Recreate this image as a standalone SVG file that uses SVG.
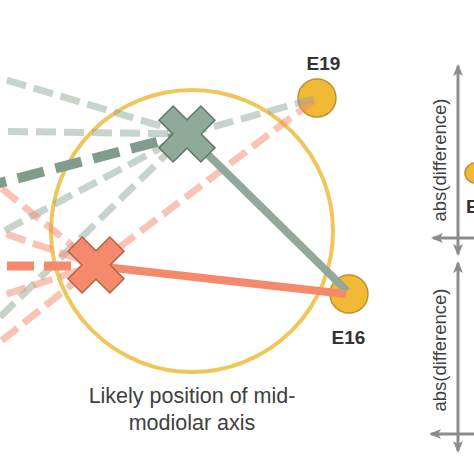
<svg xmlns="http://www.w3.org/2000/svg" width="474" height="474" viewBox="0 0 474 474">
<defs>
<style>
.lg{stroke:#8FAA9A;stroke-opacity:0.5;stroke-width:7;stroke-dasharray:20 8;fill:none}
.lo{stroke:#F4896B;stroke-opacity:0.5;stroke-width:7;stroke-dasharray:20 8;fill:none}
.dg{stroke:#7F9C8C;stroke-width:10;stroke-dasharray:27 12;fill:none}
.do{stroke:#F4896B;stroke-width:9;stroke-dasharray:27 10;fill:none}
.sg{stroke:#8FAA9A;stroke-width:8;fill:none}
.so{stroke:#F4896B;stroke-width:8;fill:none}
.elec{fill:#F2B937;stroke:#B8922F;stroke-width:1.5}
.lab{font-family:'Liberation Sans',Arial,sans-serif;font-weight:bold;font-size:19px;fill:#333333}
.ax{stroke:#8C8C8C;stroke-width:3;fill:none}
.axt{font-family:'Liberation Sans',Arial,sans-serif;font-size:18.5px;fill:#404040}
.cap{font-family:'Liberation Sans',Arial,sans-serif;font-size:21.5px;fill:#404040}
</style>
<marker id="arr" viewBox="0 0 12 10" refX="10" refY="5" markerWidth="4" markerHeight="3.4" orient="auto-start-reverse" markerUnits="strokeWidth">
<path d="M0,0 L12,5 L0,10 L3,5 z" fill="#8C8C8C"/>
</marker>
<polygon id="xshape" points="10,-29.6 10,-10 29.6,-10 29.6,10 10,10 10,29.6 -10,29.6 -10,10 -29.6,10 -29.6,-10 -10,-10 -10,-29.6"/>
</defs>

<g id="axis-circle">
<circle cx="192" cy="231" r="141" fill="none" stroke="#F0C55A" stroke-width="4"/>
</g>

<g id="E19">
<circle class="elec" cx="317" cy="98" r="19"/>
<text class="lab" x="323.5" y="70" text-anchor="middle">E19</text>
</g>
<g id="E16">
<circle class="elec" cx="349" cy="294" r="19"/>
<text class="lab" x="348.5" y="344" text-anchor="middle">E16</text>
</g>
<g id="E-partial">
<circle class="elec" cx="475" cy="173" r="10"/>
<text class="lab" x="466" y="213">E</text>
</g>

<g id="connectors">
<line class="lg" x1="-20" y1="72" x2="187" y2="134"/>
<line class="lg" x1="-20" y1="131" x2="187" y2="134"/>
<line class="lg" x1="-20" y1="243.6" x2="187" y2="134"/>
<line class="lg" x1="-20" y1="336.6" x2="187" y2="134"/>
<line class="lg" x1="187" y1="134" x2="317" y2="98"/>
<line class="dg" x1="-20" y1="188.2" x2="187" y2="134"/>
<line class="lo" x1="-20" y1="170.8" x2="96" y2="265"/>
<line class="lo" x1="-20" y1="225" x2="96" y2="265"/>
<line class="lo" x1="-20" y1="302.7" x2="96" y2="265"/>
<line class="lo" x1="-20" y1="358" x2="96" y2="265"/>
<line class="lo" x1="96" y1="265" x2="317" y2="98"/>
<line class="do" x1="7" y1="266" x2="96" y2="266"/>
<line class="sg" x1="187" y1="134" x2="347" y2="291"/>
<line class="so" x1="96" y1="266" x2="346" y2="294"/>
</g>

<g id="x-green">
<use href="#xshape" transform="translate(187,134) rotate(45)" fill="#8FAA9A" stroke="#5F7A6B" stroke-width="1.5"/>
</g>
<g id="x-orange">
<use href="#xshape" transform="translate(96,265) rotate(45)" fill="#F4896B" stroke="#B8644C" stroke-width="1.5"/>
</g>

<g id="caption">
<text class="cap" x="192" y="403" text-anchor="middle">Likely position of mid-</text>
<text class="cap" x="192" y="430" text-anchor="middle">modiolar axis</text>
</g>

<g id="axes-top">
<line class="ax" x1="458" y1="254" x2="458" y2="66" marker-start="url(#arr)" marker-end="url(#arr)"/>
<line class="ax" x1="480" y1="238" x2="433" y2="238" marker-end="url(#arr)"/>
<text class="axt" transform="translate(446,160) rotate(-90)" text-anchor="middle">abs(difference)</text>
</g>
<g id="axes-bottom">
<line class="ax" x1="458" y1="451" x2="458" y2="263" marker-start="url(#arr)" marker-end="url(#arr)"/>
<line class="ax" x1="480" y1="434" x2="431" y2="434" marker-end="url(#arr)"/>
<text class="axt" transform="translate(446,350) rotate(-90)" text-anchor="middle">abs(difference)</text>
</g>
</svg>
